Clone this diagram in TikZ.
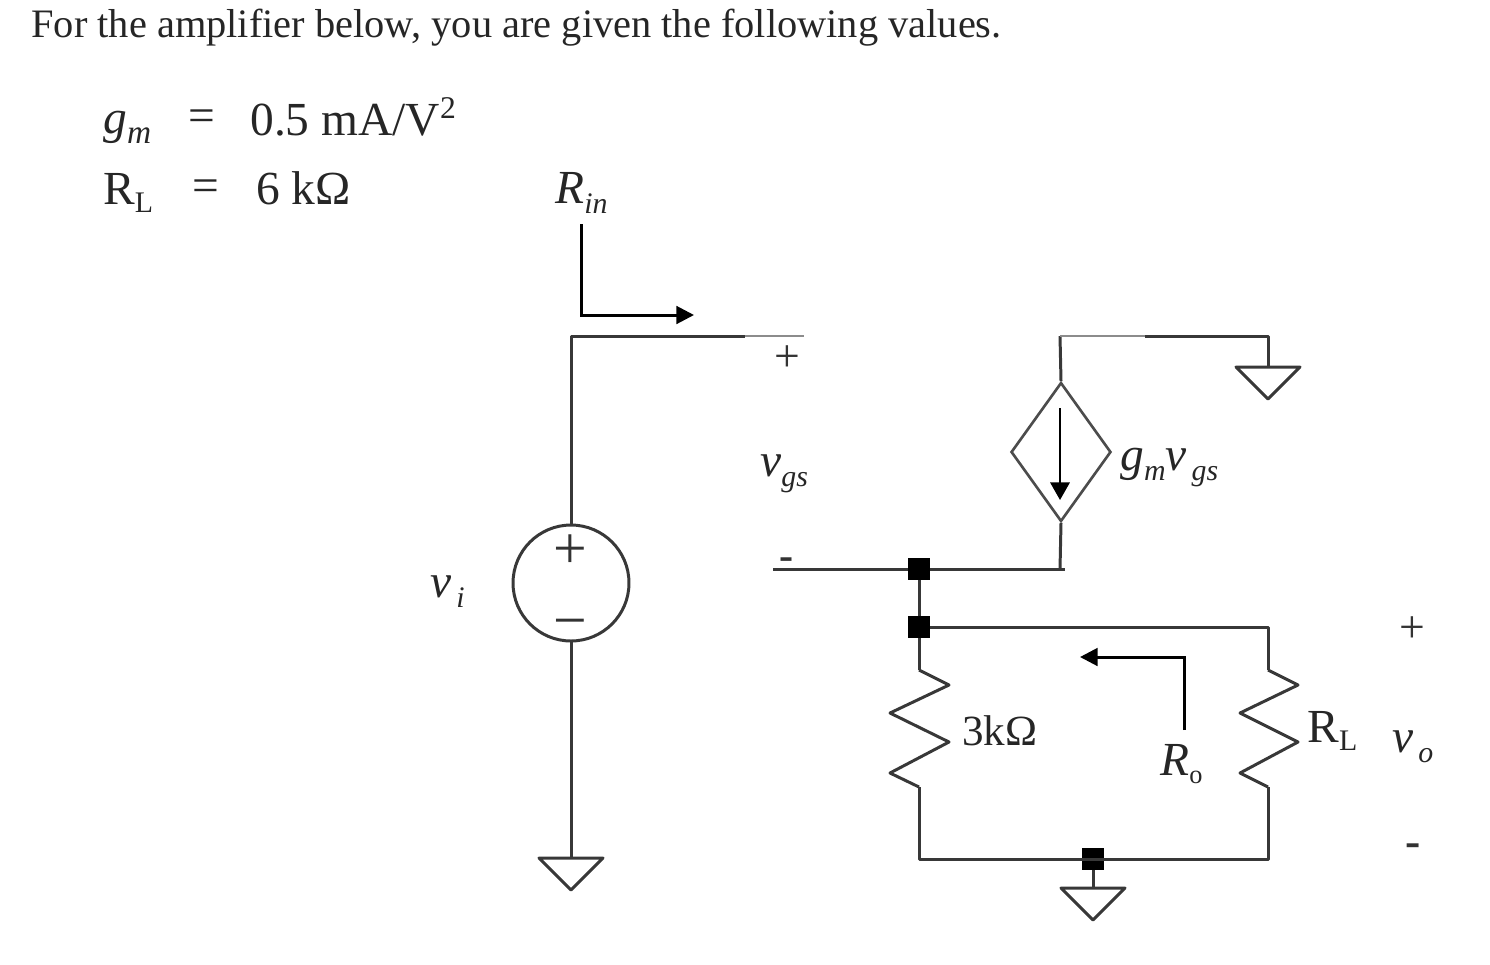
\documentclass[tikz,border=0pt]{standalone}
\usepackage{fontspec}
\setmainfont{Liberation Serif}
\usetikzlibrary{arrows.meta,shapes.geometric}
\newcommand{\sbtxt}[1]{\raisebox{-.5ex}{\fontsize{17}{18}\selectfont\textit{#1}}}
\newcommand{\sbrm}[1]{\raisebox{-.4ex}{\fontsize{17}{18}\selectfont #1}}
\begin{document}
\begin{tikzpicture}[
        x=0.02cm, y=-0.02cm,
        wire/.style={draw=black!78, line width=1.7pt, line join=round},
        lightwire/.style={draw=black!45, line width=1.5pt},
        sense/.style={draw=black, line width=1.7pt, -{Triangle[length=10pt,width=10pt]}},
        dot/.style={rectangle, fill=black, inner sep=0pt, minimum size=0.44cm},
        label/.style={anchor=base west, inner sep=0pt, text=black!85, font=\fontsize{27}{29}\selectfont},
        small/.style={anchor=center, inner sep=0pt, text=black!80, font=\fontsize{26}{26}\selectfont}
    ]
    \useasboundingbox (0,0) rectangle (1490,964);

    % Define given values
    \node[label, font=\fontsize{23}{25}\selectfont] (title) at (31,37) {For the amplifier below, you are given the following values.};
    \node[label] (gm) at (103,133) {\textit{g}\sbtxt{\fontsize{19}{20}\selectfont m}};
    \node[label] (eqa) at (188,131) {=};
    \node[label] (gmval) at (250,135) {0.5 mA/V\raisebox{.75ex}{\fontsize{18}{18}\selectfont 2}};
    \node[label] (rl) at (103,204) {R\sbrm{L}};
    \node[label] (eqb) at (192,201) {=};
    \node[label] (rlval) at (256,204) {6 kΩ};

    % Define sources and junctions
    \node[circle, draw=black!78, line width=1.7pt, minimum size=2.32cm, inner sep=0pt] (src) at (571,583) {};
    \node[small, font=\fontsize{34}{34}\selectfont] (srcp) at (570,552) {+};
    \node[small, font=\fontsize{34}{34}\selectfont] (srcm) at (570,630) {−};
    \node[diamond, draw=black!70, line width=1.5pt, aspect=.72, minimum width=2cm, minimum height=2.78cm, inner sep=0pt] (dep) at (1061,452) {};
    \node[dot] (ja) at (919,569) {};
    \node[dot] (jb) at (919,627) {};
    \node[dot] (jc) at (1093,859) {};

    % Define wire ends
    \coordinate (tl) at (571,336);
    \coordinate (tm) at (745,336);
    \coordinate (tr) at (804,336);
    \coordinate (dt) at (1060,336);
    \coordinate (dm) at (1145,336);
    \coordinate (gr) at (1268,367);
    \coordinate (gs) at (571,858);
    \coordinate (gb) at (1093,888);
    \coordinate (ml) at (773,569);
    \coordinate (mr) at (1065,569);
    \coordinate (db) at (1060,569);
    \coordinate (rat) at (919,670);
    \coordinate (rab) at (919,787);
    \coordinate (rbt) at (1268,670);
    \coordinate (rbb) at (1268,787);
    \coordinate (bl) at (919,859);
    \coordinate (br) at (1268,859);
    \coordinate (ur) at (1268,627);

    % Input side
    \draw[wire] (src.north) -- (tl) -- (tm);
    \draw[lightwire] (tm) -- (tr);
    \draw[wire] (src.south) -- (gs);
    \draw[wire] (gs) ++(-32,0) -- ++(64,0) -- ++(-32,32) -- cycle;

    % Dependent source branch
    \draw[wire] (dep.north) -- (dt);
    \draw[lightwire] (dt) -- (dm);
    \draw[wire] (dm) -| (gr);
    \draw[wire] (gr) ++(-32,0) -- ++(64,0) -- ++(-32,32) -- cycle;
    \draw[wire] (dep.south) -- (db);
    \draw[wire] (ml) -- (ja) -- (mr);
    \draw[draw=black, line width=1.3pt, -{Triangle[length=10pt,width=11pt]}] (1060,408) -- (1060,500);

    % Output side
    \draw[wire] (ja) -- (jb) -- (rat);
    \draw[wire] (jb) -- (ur) -- (rbt);
    \draw[wire] (rat) -- ++(30,15) -- ++(-59,28) -- ++(59,29) -- ++(-59,31) -- (rab);
    \draw[wire] (rbt) -- ++(30,15) -- ++(-58,28) -- ++(58,29) -- ++(-58,31) -- (rbb);
    \draw[wire] (rab) -- (bl) -- (br) -- (rbb);
    \draw[wire] (jc) -- (gb);
    \draw[wire] (gb) ++(-32,0) -- ++(64,0) -- ++(-32,32) -- cycle;

    % Sense arrows
    \coordinate (rinf) at (581,224);
    \coordinate (rinc) at (581,315);
    \coordinate (rint) at (694,315);
    \coordinate (rof) at (1184,730);
    \coordinate (roc) at (1184,657);
    \coordinate (rot) at (1080,657);
    \draw[sense] (rinf) -- (rinc) -- (rint);
    \draw[sense] (rof) -- (roc) -- (rot);

    % Circuit labels
    \node[label] (rin) at (555,203) {\textit{R}\sbtxt{in}};
    \node[small] (vgsp) at (787,359) {+};
    \node[small, font=\fontsize{24}{24}\bfseries\selectfont] (vgsm) at (787,564) {-};
    \node[label] (vgs) at (760,476) {\textit{v}\sbtxt{gs}};
    \node[label] (gmvgs) at (1120,470) {\textit{g}\sbtxt{m}\textit{v}\sbtxt{\,gs}};
    \node[label] (vi) at (430,597) {\textit{v}\sbtxt{\,i}};
    \node[label, font=\fontsize{24.5}{26}\selectfont] (ra) at (962,745) {3kΩ};
    \node[label] (ro) at (1160,775) {\textit{R}\sbrm{\fontsize{15}{16}\selectfont o}};
    \node[label] (rlb) at (1307,742) {R\sbrm{L}};
    \node[label] (vo) at (1392,752) {\textit{v}\sbtxt{\,o}};
    \node[small] (vop) at (1412,630) {+};
    \node[small, font=\fontsize{26}{26}\bfseries\selectfont] (vom) at (1413,850) {-};
\end{tikzpicture}
\end{document}
